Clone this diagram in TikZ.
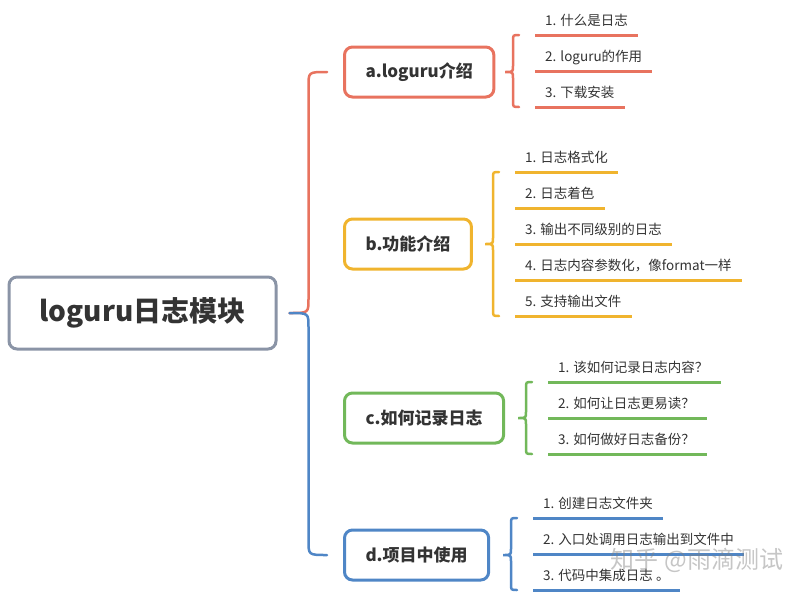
\documentclass[tikz,border=0pt]{standalone}
\usepackage{fontspec}
\setmainfont{Noto Sans CJK SC}
\usetikzlibrary{positioning,calc}
\definecolor{cred}{HTML}{E8735F}
\definecolor{cyellow}{HTML}{F0B42E}
\definecolor{cgreen}{HTML}{72B85A}
\definecolor{cblue}{HTML}{4F86C6}
\definecolor{cgray}{HTML}{8A94A6}
\definecolor{ctext}{HTML}{333333}
\tikzset{
  rootbox/.style={draw=cgray, line width=3pt, rounded corners=8pt, minimum width=267pt, minimum height=72pt, text=ctext, font=\fontsize{28}{32}\selectfont\bfseries},
  topic/.style={draw=#1, line width=3pt, rounded corners=8pt, anchor=west, inner xsep=21pt, minimum height=50pt, text=ctext, font=\fontsize{17}{20}\selectfont\bfseries},
  entry/.style={anchor=south west, inner xsep=10pt, inner ysep=9pt, text depth=0pt, text=ctext, font=\fontsize{13.5}{16}\selectfont,
    append after command={(\tikzlastnode.south west) edge[draw=#1, line width=3pt] (\tikzlastnode.south east)}},
  next/.style={below=36pt of #1.south west, anchor=south west},
  wire/.style={draw=#1, line width=2.5pt, line cap=round},
}
% curly brace: colour, parent, first entry, last entry
\newcommand{\curly}[4]{%
  \draw[wire=#1] let \p1=(#2), \p2=(#3.south west), \p3=(#4.south west) in
    (\x2-16pt,\y2) .. controls (\x2-22pt,\y2) .. (\x2-22pt,\y2-6pt)
    -- (\x2-22pt,\y1+6pt) .. controls (\x2-22pt,\y1) .. (\x2-30pt,\y1)
    .. controls (\x2-22pt,\y1) .. (\x2-22pt,\y1-6pt)
    -- (\x2-22pt,\y3+6pt) .. controls (\x2-22pt,\y3) .. (\x2-16pt,\y3);}
\begin{document}
\begin{tikzpicture}[x=1pt, y=-1pt]
\useasboundingbox (0,0) rectangle (803,592);

\node (root) [rootbox] at (142.5,313) {loguru日志模块};

\node (a) [topic=cred] at (343,72) {a.loguru介绍};
\node (b) [topic=cyellow] at (343,244) {b.功能介绍};
\node (c) [topic=cgreen] at (343,418) {c.如何记录日志};
\node (d) [topic=cblue] at (343,555) {d.项目中使用};

% a
\node (a1) [entry=cred] at (535,35) {1. 什么是日志};
\node (a2) [entry=cred, next=a1] {2. loguru的作用};
\node (a3) [entry=cred, next=a2] {3. 下载安装};

% b
\node (b1) [entry=cyellow] at (515,172) {1. 日志格式化};
\node (b2) [entry=cyellow, next=b1] {2. 日志着色};
\node (b3) [entry=cyellow, next=b2] {3. 输出不同级别的日志};
\node (b4) [entry=cyellow, next=b3] {4. 日志内容参数化，像format一样};
\node (b5) [entry=cyellow, next=b4] {5. 支持输出文件};

% c
\node (c1) [entry=cgreen] at (548,382) {1. 该如何记录日志内容？\,};
\node (c2) [entry=cgreen, next=c1] {2. 如何让日志更易读？\,};
\node (c3) [entry=cgreen, next=c2] {3. 如何做好日志备份？\,};

% d
\node (d1) [entry=cblue] at (533,518) {1. 创建日志文件夹};
\node (d2) [entry=cblue, next=d1] {2. 入口处调用日志输出到文件中};
\node (d3) [entry=cblue, next=d2] {3. 代码中集成日志 。};

\curly{cred}{a}{a1}{a3}
\curly{cyellow}{b}{b1}{b5}
\curly{cgreen}{c}{c1}{c3}
\curly{cblue}{d}{d1}{d3}

% main bracket
\draw[wire=cred] let \p1=($(root.east)+(12,0)$), \p2=($(a.west)+(-16,0)$) in
  (\x1,\y1) .. controls (\x1+19pt,\y1) .. (\x1+19pt,\y1+14pt)
  -- (\x1+19pt,\y2-14pt) .. controls (\x1+19pt,\y2) .. (\x2,\y2);
\draw[wire=cblue] let \p1=($(root.east)+(12,0)$), \p2=($(d.west)+(-16,0)$) in
  (\x1,\y1) .. controls (\x1+19pt,\y1) .. (\x1+19pt,\y1-14pt)
  -- (\x1+19pt,\y2+14pt) .. controls (\x1+19pt,\y2) .. (\x2,\y2);

\node (mark) [text=gray, opacity=.45, font=\fontsize{24}{28}\selectfont] at (697,560) {知乎 @雨滴测试};
\end{tikzpicture}
\end{document}
